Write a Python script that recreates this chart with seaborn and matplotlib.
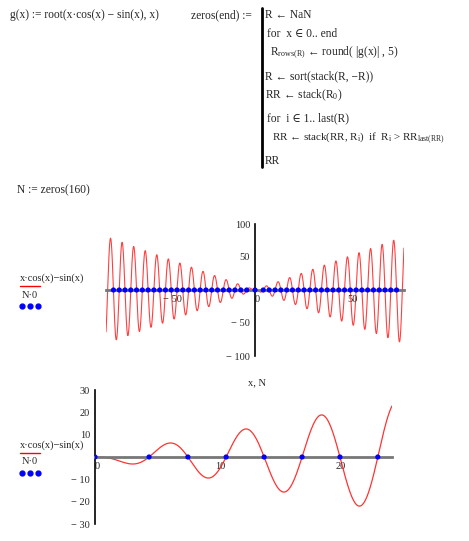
import numpy as np
import seaborn as sns
import matplotlib
matplotlib.use('Agg')
import matplotlib.pyplot as plt

sns.set_style('white')
plt.rcParams['font.family'] = ['Liberation Serif', 'DejaVu Serif']
plt.rcParams['mathtext.fontset'] = 'custom'
plt.rcParams['mathtext.rm'] = 'Liberation Serif'
plt.rcParams['mathtext.it'] = 'Liberation Serif'

# curve x*cos(x) - sin(x), roots where tan(x) = x
x_wide = np.linspace(-81, 81, 6000)
x_zoom = np.linspace(0, 24.7, 1500)
pos_roots = [0.0, 4.4934, 7.7253, 10.9041, 14.0662, 17.2208, 20.3713, 23.5195,
             26.6661, 29.8116, 32.9564, 36.1006, 39.2444, 42.3879, 45.5311,
             48.6741, 51.8170, 54.9597, 58.1023, 61.2447, 64.3871, 67.5294,
             70.6717, 73.8138, 76.9560]
roots = np.array(sorted(set([-r for r in pos_roots] + pos_roots)))

wide_yticks = [100, 50, -50, -100]
wide_ylabels = ['100', '50', '\u2212 50', '\u2212 100']
wide_xticks = [-50, 0, 50]
wide_xlabels = ['\u2212 50', '0', '50']
zoom_yticks = [30, 20, 10, -10, -20, -30]
zoom_ylabels = ['30', '20', '10', '\u2212 10', '\u2212 20', '\u2212 30']
zoom_xticks = [0, 10, 20]
zoom_xlabels = ['0', '10', '20']

W, H = 469, 541
fig = plt.figure(figsize=(W / 100, H / 100), dpi=100)


def px(x, y):
    return x / W, 1 - y / H


def txt(x, y, s, size=8.3, **kw):
    fig.text(*px(x, y), s, fontsize=size, va='center', ha='left', **kw)


# Mathcad worksheet text
txt(10, 15, 'g(x) := root(x\u00b7cos(x) \u2212 sin(x), x)')
txt(191, 15, 'zeros(end) :=')
fig.add_artist(plt.Line2D([262 / W, 262 / W], [1 - 8 / H, 1 - 167 / H], color='black', lw=2))
txt(265, 15, 'R \u2190 NaN')
txt(267, 34, 'for  x \u2208 0.. end')
txt(270, 53, 'R$_{\\mathrm{rows(R)}}$ \u2190 round( |g(x)| , 5)')
txt(265, 76, 'R \u2190 sort(stack(R, \u2212R))')
txt(265, 95, 'RR \u2190 stack(R$_0$)')
txt(267, 118, 'for  i \u2208 1.. last(R)')
txt(272, 138, 'RR \u2190 stack(RR, R$_i$)  if  R$_i$ > RR$_{\\mathrm{last(RR)}}$', size=7.9)
txt(265, 161, 'RR')
txt(17, 190, 'N := zeros(160)')


def legend(y0):
    txt(20, y0, 'x\u00b7cos(x)\u2212sin(x)', size=7.5)
    fig.add_artist(plt.Line2D([20 / W, 40 / W], [1 - (y0 + 8) / H] * 2, color='red', lw=1))
    txt(22, y0 + 17, 'N\u00b70', size=7.5)
    for dx in (22, 30, 38):
        fig.add_artist(plt.Line2D([dx / W], [1 - (y0 + 28) / H], marker='o', ms=3.5,
                                  color='blue', ls=''))


def style_axes(ax, xticks, xlabels, yticks, ylabels):
    for s in ('top', 'right'):
        ax.spines[s].set_visible(False)
    ax.spines['left'].set_position(('data', 0))
    ax.spines['bottom'].set_position(('data', 0))
    ax.spines['bottom'].set_color('#777777')
    ax.spines['bottom'].set_linewidth(2)
    ax.spines['left'].set_color('black')
    ax.spines['left'].set_linewidth(1.2)
    ax.set_xticks(xticks, xlabels)
    ax.set_yticks(yticks, ylabels)
    ax.tick_params(direction='inout', length=5, labelsize=7.5, pad=1)
    for lab in ax.get_xticklabels():
        lab.set_horizontalalignment('left')
    ax.set_facecolor('none')


ax1 = fig.add_axes([106 / W, 1 - 356 / H, 298 / W, 132 / H])
sns.lineplot(x=x_wide, y=x_wide * np.cos(x_wide) - np.sin(x_wide), ax=ax1,
             color='red', lw=0.8, alpha=0.75)
sns.scatterplot(x=roots, y=roots * 0, ax=ax1, color='blue', s=14, edgecolor='none', zorder=5)
ax1.set_xlim(-81, 81)
ax1.set_ylim(-100, 100)
style_axes(ax1, wide_xticks, wide_xlabels, wide_yticks, wide_ylabels)
legend(278)
txt(248, 383, 'x, N', size=7.5)

zr = roots[(roots >= 0) & (roots <= 24.7)]
ax2 = fig.add_axes([95 / W, 1 - 524 / H, 297 / W, 134 / H])
sns.lineplot(x=x_zoom, y=x_zoom * np.cos(x_zoom) - np.sin(x_zoom), ax=ax2,
             color='red', lw=0.9, alpha=0.8)
sns.scatterplot(x=zr, y=zr * 0, ax=ax2, color='blue', s=14, edgecolor='none', zorder=5)
ax2.set_xlim(0, 24.7)
ax2.set_ylim(-30, 30)
style_axes(ax2, zoom_xticks, zoom_xlabels, zoom_yticks, zoom_ylabels)
legend(445)

fig.savefig('out.png', dpi=100)
